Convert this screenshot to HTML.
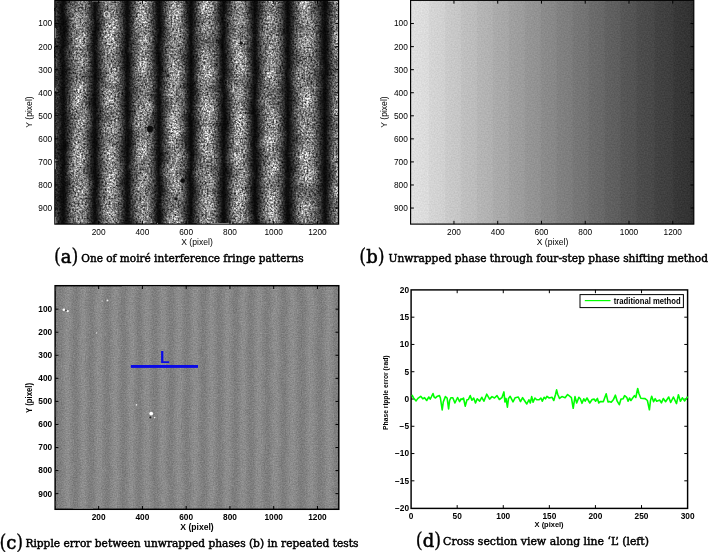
<!DOCTYPE html>
<html><head><meta charset="utf-8"><style>
html,body{margin:0;padding:0;background:#fff;width:709px;height:552px;overflow:hidden}
svg{display:block}
</style></head><body>
<svg width="709" height="552" viewBox="0 0 709 552">
<defs>
<linearGradient id="fr" gradientUnits="userSpaceOnUse" x1="55" y1="0" x2="339" y2="0"><stop offset="0.0000" stop-color="rgb(114,114,114)"/><stop offset="0.0035" stop-color="rgb(100,100,100)"/><stop offset="0.0070" stop-color="rgb(86,86,86)"/><stop offset="0.0106" stop-color="rgb(72,72,72)"/><stop offset="0.0141" stop-color="rgb(59,59,59)"/><stop offset="0.0176" stop-color="rgb(47,47,47)"/><stop offset="0.0211" stop-color="rgb(36,36,36)"/><stop offset="0.0246" stop-color="rgb(27,27,27)"/><stop offset="0.0282" stop-color="rgb(20,20,20)"/><stop offset="0.0317" stop-color="rgb(21,21,21)"/><stop offset="0.0352" stop-color="rgb(34,34,34)"/><stop offset="0.0387" stop-color="rgb(51,51,51)"/><stop offset="0.0423" stop-color="rgb(71,71,71)"/><stop offset="0.0458" stop-color="rgb(92,92,92)"/><stop offset="0.0493" stop-color="rgb(113,113,113)"/><stop offset="0.0528" stop-color="rgb(135,135,135)"/><stop offset="0.0563" stop-color="rgb(156,156,156)"/><stop offset="0.0599" stop-color="rgb(176,176,176)"/><stop offset="0.0634" stop-color="rgb(195,195,195)"/><stop offset="0.0669" stop-color="rgb(212,212,212)"/><stop offset="0.0704" stop-color="rgb(226,226,226)"/><stop offset="0.0739" stop-color="rgb(238,238,238)"/><stop offset="0.0775" stop-color="rgb(247,247,247)"/><stop offset="0.0810" stop-color="rgb(252,252,252)"/><stop offset="0.0845" stop-color="rgb(255,255,255)"/><stop offset="0.0880" stop-color="rgb(254,254,254)"/><stop offset="0.0915" stop-color="rgb(250,250,250)"/><stop offset="0.0951" stop-color="rgb(243,243,243)"/><stop offset="0.0986" stop-color="rgb(232,232,232)"/><stop offset="0.1021" stop-color="rgb(219,219,219)"/><stop offset="0.1056" stop-color="rgb(204,204,204)"/><stop offset="0.1092" stop-color="rgb(186,186,186)"/><stop offset="0.1127" stop-color="rgb(166,166,166)"/><stop offset="0.1162" stop-color="rgb(146,146,146)"/><stop offset="0.1197" stop-color="rgb(124,124,124)"/><stop offset="0.1232" stop-color="rgb(102,102,102)"/><stop offset="0.1268" stop-color="rgb(81,81,81)"/><stop offset="0.1303" stop-color="rgb(61,61,61)"/><stop offset="0.1338" stop-color="rgb(42,42,42)"/><stop offset="0.1373" stop-color="rgb(27,27,27)"/><stop offset="0.1408" stop-color="rgb(18,18,18)"/><stop offset="0.1444" stop-color="rgb(27,27,27)"/><stop offset="0.1479" stop-color="rgb(42,42,42)"/><stop offset="0.1514" stop-color="rgb(59,59,59)"/><stop offset="0.1549" stop-color="rgb(79,79,79)"/><stop offset="0.1585" stop-color="rgb(100,100,100)"/><stop offset="0.1620" stop-color="rgb(121,121,121)"/><stop offset="0.1655" stop-color="rgb(142,142,142)"/><stop offset="0.1690" stop-color="rgb(162,162,162)"/><stop offset="0.1725" stop-color="rgb(182,182,182)"/><stop offset="0.1761" stop-color="rgb(199,199,199)"/><stop offset="0.1796" stop-color="rgb(215,215,215)"/><stop offset="0.1831" stop-color="rgb(229,229,229)"/><stop offset="0.1866" stop-color="rgb(240,240,240)"/><stop offset="0.1901" stop-color="rgb(248,248,248)"/><stop offset="0.1937" stop-color="rgb(253,253,253)"/><stop offset="0.1972" stop-color="rgb(255,255,255)"/><stop offset="0.2007" stop-color="rgb(254,254,254)"/><stop offset="0.2042" stop-color="rgb(250,250,250)"/><stop offset="0.2077" stop-color="rgb(242,242,242)"/><stop offset="0.2113" stop-color="rgb(232,232,232)"/><stop offset="0.2148" stop-color="rgb(220,220,220)"/><stop offset="0.2183" stop-color="rgb(204,204,204)"/><stop offset="0.2218" stop-color="rgb(187,187,187)"/><stop offset="0.2254" stop-color="rgb(168,168,168)"/><stop offset="0.2289" stop-color="rgb(148,148,148)"/><stop offset="0.2324" stop-color="rgb(127,127,127)"/><stop offset="0.2359" stop-color="rgb(106,106,106)"/><stop offset="0.2394" stop-color="rgb(85,85,85)"/><stop offset="0.2430" stop-color="rgb(65,65,65)"/><stop offset="0.2465" stop-color="rgb(47,47,47)"/><stop offset="0.2500" stop-color="rgb(31,31,31)"/><stop offset="0.2535" stop-color="rgb(20,20,20)"/><stop offset="0.2570" stop-color="rgb(24,24,24)"/><stop offset="0.2606" stop-color="rgb(37,37,37)"/><stop offset="0.2641" stop-color="rgb(55,55,55)"/><stop offset="0.2676" stop-color="rgb(74,74,74)"/><stop offset="0.2711" stop-color="rgb(95,95,95)"/><stop offset="0.2746" stop-color="rgb(117,117,117)"/><stop offset="0.2782" stop-color="rgb(139,139,139)"/><stop offset="0.2817" stop-color="rgb(160,160,160)"/><stop offset="0.2852" stop-color="rgb(180,180,180)"/><stop offset="0.2887" stop-color="rgb(198,198,198)"/><stop offset="0.2923" stop-color="rgb(214,214,214)"/><stop offset="0.2958" stop-color="rgb(228,228,228)"/><stop offset="0.2993" stop-color="rgb(240,240,240)"/><stop offset="0.3028" stop-color="rgb(248,248,248)"/><stop offset="0.3063" stop-color="rgb(253,253,253)"/><stop offset="0.3099" stop-color="rgb(255,255,255)"/><stop offset="0.3134" stop-color="rgb(254,254,254)"/><stop offset="0.3169" stop-color="rgb(249,249,249)"/><stop offset="0.3204" stop-color="rgb(241,241,241)"/><stop offset="0.3239" stop-color="rgb(231,231,231)"/><stop offset="0.3275" stop-color="rgb(217,217,217)"/><stop offset="0.3310" stop-color="rgb(201,201,201)"/><stop offset="0.3345" stop-color="rgb(183,183,183)"/><stop offset="0.3380" stop-color="rgb(164,164,164)"/><stop offset="0.3415" stop-color="rgb(143,143,143)"/><stop offset="0.3451" stop-color="rgb(121,121,121)"/><stop offset="0.3486" stop-color="rgb(100,100,100)"/><stop offset="0.3521" stop-color="rgb(79,79,79)"/><stop offset="0.3556" stop-color="rgb(59,59,59)"/><stop offset="0.3592" stop-color="rgb(41,41,41)"/><stop offset="0.3627" stop-color="rgb(26,26,26)"/><stop offset="0.3662" stop-color="rgb(18,18,18)"/><stop offset="0.3697" stop-color="rgb(28,28,28)"/><stop offset="0.3732" stop-color="rgb(43,43,43)"/><stop offset="0.3768" stop-color="rgb(62,62,62)"/><stop offset="0.3803" stop-color="rgb(81,81,81)"/><stop offset="0.3838" stop-color="rgb(102,102,102)"/><stop offset="0.3873" stop-color="rgb(124,124,124)"/><stop offset="0.3908" stop-color="rgb(145,145,145)"/><stop offset="0.3944" stop-color="rgb(165,165,165)"/><stop offset="0.3979" stop-color="rgb(185,185,185)"/><stop offset="0.4014" stop-color="rgb(202,202,202)"/><stop offset="0.4049" stop-color="rgb(218,218,218)"/><stop offset="0.4085" stop-color="rgb(231,231,231)"/><stop offset="0.4120" stop-color="rgb(241,241,241)"/><stop offset="0.4155" stop-color="rgb(249,249,249)"/><stop offset="0.4190" stop-color="rgb(254,254,254)"/><stop offset="0.4225" stop-color="rgb(255,255,255)"/><stop offset="0.4261" stop-color="rgb(253,253,253)"/><stop offset="0.4296" stop-color="rgb(248,248,248)"/><stop offset="0.4331" stop-color="rgb(240,240,240)"/><stop offset="0.4366" stop-color="rgb(230,230,230)"/><stop offset="0.4401" stop-color="rgb(216,216,216)"/><stop offset="0.4437" stop-color="rgb(200,200,200)"/><stop offset="0.4472" stop-color="rgb(183,183,183)"/><stop offset="0.4507" stop-color="rgb(163,163,163)"/><stop offset="0.4542" stop-color="rgb(143,143,143)"/><stop offset="0.4577" stop-color="rgb(122,122,122)"/><stop offset="0.4613" stop-color="rgb(100,100,100)"/><stop offset="0.4648" stop-color="rgb(79,79,79)"/><stop offset="0.4683" stop-color="rgb(60,60,60)"/><stop offset="0.4718" stop-color="rgb(42,42,42)"/><stop offset="0.4754" stop-color="rgb(27,27,27)"/><stop offset="0.4789" stop-color="rgb(18,18,18)"/><stop offset="0.4824" stop-color="rgb(27,27,27)"/><stop offset="0.4859" stop-color="rgb(41,41,41)"/><stop offset="0.4894" stop-color="rgb(58,58,58)"/><stop offset="0.4930" stop-color="rgb(78,78,78)"/><stop offset="0.4965" stop-color="rgb(98,98,98)"/><stop offset="0.5000" stop-color="rgb(119,119,119)"/><stop offset="0.5035" stop-color="rgb(140,140,140)"/><stop offset="0.5070" stop-color="rgb(160,160,160)"/><stop offset="0.5106" stop-color="rgb(179,179,179)"/><stop offset="0.5141" stop-color="rgb(197,197,197)"/><stop offset="0.5176" stop-color="rgb(213,213,213)"/><stop offset="0.5211" stop-color="rgb(226,226,226)"/><stop offset="0.5246" stop-color="rgb(238,238,238)"/><stop offset="0.5282" stop-color="rgb(246,246,246)"/><stop offset="0.5317" stop-color="rgb(252,252,252)"/><stop offset="0.5352" stop-color="rgb(255,255,255)"/><stop offset="0.5387" stop-color="rgb(254,254,254)"/><stop offset="0.5423" stop-color="rgb(251,251,251)"/><stop offset="0.5458" stop-color="rgb(245,245,245)"/><stop offset="0.5493" stop-color="rgb(236,236,236)"/><stop offset="0.5528" stop-color="rgb(224,224,224)"/><stop offset="0.5563" stop-color="rgb(210,210,210)"/><stop offset="0.5599" stop-color="rgb(193,193,193)"/><stop offset="0.5634" stop-color="rgb(175,175,175)"/><stop offset="0.5669" stop-color="rgb(156,156,156)"/><stop offset="0.5704" stop-color="rgb(136,136,136)"/><stop offset="0.5739" stop-color="rgb(115,115,115)"/><stop offset="0.5775" stop-color="rgb(94,94,94)"/><stop offset="0.5810" stop-color="rgb(74,74,74)"/><stop offset="0.5845" stop-color="rgb(55,55,55)"/><stop offset="0.5880" stop-color="rgb(38,38,38)"/><stop offset="0.5915" stop-color="rgb(24,24,24)"/><stop offset="0.5951" stop-color="rgb(19,19,19)"/><stop offset="0.5986" stop-color="rgb(30,30,30)"/><stop offset="0.6021" stop-color="rgb(47,47,47)"/><stop offset="0.6056" stop-color="rgb(66,66,66)"/><stop offset="0.6092" stop-color="rgb(87,87,87)"/><stop offset="0.6127" stop-color="rgb(108,108,108)"/><stop offset="0.6162" stop-color="rgb(131,131,131)"/><stop offset="0.6197" stop-color="rgb(152,152,152)"/><stop offset="0.6232" stop-color="rgb(173,173,173)"/><stop offset="0.6268" stop-color="rgb(192,192,192)"/><stop offset="0.6303" stop-color="rgb(210,210,210)"/><stop offset="0.6338" stop-color="rgb(225,225,225)"/><stop offset="0.6373" stop-color="rgb(237,237,237)"/><stop offset="0.6408" stop-color="rgb(246,246,246)"/><stop offset="0.6444" stop-color="rgb(252,252,252)"/><stop offset="0.6479" stop-color="rgb(255,255,255)"/><stop offset="0.6514" stop-color="rgb(254,254,254)"/><stop offset="0.6549" stop-color="rgb(250,250,250)"/><stop offset="0.6585" stop-color="rgb(243,243,243)"/><stop offset="0.6620" stop-color="rgb(232,232,232)"/><stop offset="0.6655" stop-color="rgb(219,219,219)"/><stop offset="0.6690" stop-color="rgb(203,203,203)"/><stop offset="0.6725" stop-color="rgb(185,185,185)"/><stop offset="0.6761" stop-color="rgb(165,165,165)"/><stop offset="0.6796" stop-color="rgb(144,144,144)"/><stop offset="0.6831" stop-color="rgb(122,122,122)"/><stop offset="0.6866" stop-color="rgb(100,100,100)"/><stop offset="0.6901" stop-color="rgb(78,78,78)"/><stop offset="0.6937" stop-color="rgb(58,58,58)"/><stop offset="0.6972" stop-color="rgb(40,40,40)"/><stop offset="0.7007" stop-color="rgb(25,25,25)"/><stop offset="0.7042" stop-color="rgb(19,19,19)"/><stop offset="0.7077" stop-color="rgb(29,29,29)"/><stop offset="0.7113" stop-color="rgb(44,44,44)"/><stop offset="0.7148" stop-color="rgb(62,62,62)"/><stop offset="0.7183" stop-color="rgb(81,81,81)"/><stop offset="0.7218" stop-color="rgb(102,102,102)"/><stop offset="0.7254" stop-color="rgb(122,122,122)"/><stop offset="0.7289" stop-color="rgb(143,143,143)"/><stop offset="0.7324" stop-color="rgb(163,163,163)"/><stop offset="0.7359" stop-color="rgb(182,182,182)"/><stop offset="0.7394" stop-color="rgb(199,199,199)"/><stop offset="0.7430" stop-color="rgb(215,215,215)"/><stop offset="0.7465" stop-color="rgb(228,228,228)"/><stop offset="0.7500" stop-color="rgb(239,239,239)"/><stop offset="0.7535" stop-color="rgb(247,247,247)"/><stop offset="0.7570" stop-color="rgb(252,252,252)"/><stop offset="0.7606" stop-color="rgb(255,255,255)"/><stop offset="0.7641" stop-color="rgb(254,254,254)"/><stop offset="0.7676" stop-color="rgb(251,251,251)"/><stop offset="0.7711" stop-color="rgb(244,244,244)"/><stop offset="0.7746" stop-color="rgb(235,235,235)"/><stop offset="0.7782" stop-color="rgb(223,223,223)"/><stop offset="0.7817" stop-color="rgb(209,209,209)"/><stop offset="0.7852" stop-color="rgb(192,192,192)"/><stop offset="0.7887" stop-color="rgb(174,174,174)"/><stop offset="0.7923" stop-color="rgb(155,155,155)"/><stop offset="0.7958" stop-color="rgb(135,135,135)"/><stop offset="0.7993" stop-color="rgb(114,114,114)"/><stop offset="0.8028" stop-color="rgb(93,93,93)"/><stop offset="0.8063" stop-color="rgb(73,73,73)"/><stop offset="0.8099" stop-color="rgb(54,54,54)"/><stop offset="0.8134" stop-color="rgb(38,38,38)"/><stop offset="0.8169" stop-color="rgb(24,24,24)"/><stop offset="0.8204" stop-color="rgb(19,19,19)"/><stop offset="0.8239" stop-color="rgb(27,27,27)"/><stop offset="0.8275" stop-color="rgb(40,40,40)"/><stop offset="0.8310" stop-color="rgb(55,55,55)"/><stop offset="0.8345" stop-color="rgb(72,72,72)"/><stop offset="0.8380" stop-color="rgb(89,89,89)"/><stop offset="0.8415" stop-color="rgb(108,108,108)"/><stop offset="0.8451" stop-color="rgb(126,126,126)"/><stop offset="0.8486" stop-color="rgb(144,144,144)"/><stop offset="0.8521" stop-color="rgb(162,162,162)"/><stop offset="0.8556" stop-color="rgb(179,179,179)"/><stop offset="0.8592" stop-color="rgb(195,195,195)"/><stop offset="0.8627" stop-color="rgb(209,209,209)"/><stop offset="0.8662" stop-color="rgb(222,222,222)"/><stop offset="0.8697" stop-color="rgb(233,233,233)"/><stop offset="0.8732" stop-color="rgb(242,242,242)"/><stop offset="0.8768" stop-color="rgb(248,248,248)"/><stop offset="0.8803" stop-color="rgb(253,253,253)"/><stop offset="0.8838" stop-color="rgb(255,255,255)"/><stop offset="0.8873" stop-color="rgb(255,255,255)"/><stop offset="0.8908" stop-color="rgb(252,252,252)"/><stop offset="0.8944" stop-color="rgb(247,247,247)"/><stop offset="0.8979" stop-color="rgb(240,240,240)"/><stop offset="0.9014" stop-color="rgb(231,231,231)"/><stop offset="0.9049" stop-color="rgb(219,219,219)"/><stop offset="0.9085" stop-color="rgb(206,206,206)"/><stop offset="0.9120" stop-color="rgb(192,192,192)"/><stop offset="0.9155" stop-color="rgb(176,176,176)"/><stop offset="0.9190" stop-color="rgb(159,159,159)"/><stop offset="0.9225" stop-color="rgb(141,141,141)"/><stop offset="0.9261" stop-color="rgb(122,122,122)"/><stop offset="0.9296" stop-color="rgb(104,104,104)"/><stop offset="0.9331" stop-color="rgb(86,86,86)"/><stop offset="0.9366" stop-color="rgb(68,68,68)"/><stop offset="0.9401" stop-color="rgb(52,52,52)"/><stop offset="0.9437" stop-color="rgb(37,37,37)"/><stop offset="0.9472" stop-color="rgb(25,25,25)"/><stop offset="0.9507" stop-color="rgb(18,18,18)"/><stop offset="0.9542" stop-color="rgb(27,27,27)"/><stop offset="0.9577" stop-color="rgb(41,41,41)"/><stop offset="0.9613" stop-color="rgb(58,58,58)"/><stop offset="0.9648" stop-color="rgb(77,77,77)"/><stop offset="0.9683" stop-color="rgb(97,97,97)"/><stop offset="0.9718" stop-color="rgb(118,118,118)"/><stop offset="0.9754" stop-color="rgb(139,139,139)"/><stop offset="0.9789" stop-color="rgb(159,159,159)"/><stop offset="0.9824" stop-color="rgb(178,178,178)"/><stop offset="0.9859" stop-color="rgb(196,196,196)"/><stop offset="0.9894" stop-color="rgb(212,212,212)"/><stop offset="0.9930" stop-color="rgb(226,226,226)"/><stop offset="0.9965" stop-color="rgb(237,237,237)"/><stop offset="1.0000" stop-color="rgb(246,246,246)"/></linearGradient>
<linearGradient id="ph" x1="0" y1="0" x2="1" y2="0"><stop offset="0.0000" stop-color="rgb(224,224,224)"/><stop offset="0.0035" stop-color="rgb(224,224,224)"/><stop offset="0.0070" stop-color="rgb(223,223,223)"/><stop offset="0.0106" stop-color="rgb(223,223,223)"/><stop offset="0.0141" stop-color="rgb(223,223,223)"/><stop offset="0.0176" stop-color="rgb(223,223,223)"/><stop offset="0.0211" stop-color="rgb(222,222,222)"/><stop offset="0.0246" stop-color="rgb(222,222,222)"/><stop offset="0.0282" stop-color="rgb(222,222,222)"/><stop offset="0.0317" stop-color="rgb(222,222,222)"/><stop offset="0.0352" stop-color="rgb(221,221,221)"/><stop offset="0.0387" stop-color="rgb(221,221,221)"/><stop offset="0.0423" stop-color="rgb(220,220,220)"/><stop offset="0.0458" stop-color="rgb(220,220,220)"/><stop offset="0.0493" stop-color="rgb(220,220,220)"/><stop offset="0.0528" stop-color="rgb(219,219,219)"/><stop offset="0.0563" stop-color="rgb(219,219,219)"/><stop offset="0.0599" stop-color="rgb(219,219,219)"/><stop offset="0.0634" stop-color="rgb(218,218,218)"/><stop offset="0.0669" stop-color="rgb(213,213,213)"/><stop offset="0.0704" stop-color="rgb(213,213,213)"/><stop offset="0.0739" stop-color="rgb(212,212,212)"/><stop offset="0.0775" stop-color="rgb(212,212,212)"/><stop offset="0.0810" stop-color="rgb(212,212,212)"/><stop offset="0.0845" stop-color="rgb(211,211,211)"/><stop offset="0.0880" stop-color="rgb(211,211,211)"/><stop offset="0.0915" stop-color="rgb(211,211,211)"/><stop offset="0.0951" stop-color="rgb(210,210,210)"/><stop offset="0.0986" stop-color="rgb(210,210,210)"/><stop offset="0.1021" stop-color="rgb(210,210,210)"/><stop offset="0.1056" stop-color="rgb(209,209,209)"/><stop offset="0.1092" stop-color="rgb(209,209,209)"/><stop offset="0.1127" stop-color="rgb(208,208,208)"/><stop offset="0.1162" stop-color="rgb(208,208,208)"/><stop offset="0.1197" stop-color="rgb(208,208,208)"/><stop offset="0.1232" stop-color="rgb(203,203,203)"/><stop offset="0.1268" stop-color="rgb(202,202,202)"/><stop offset="0.1303" stop-color="rgb(202,202,202)"/><stop offset="0.1338" stop-color="rgb(202,202,202)"/><stop offset="0.1373" stop-color="rgb(201,201,201)"/><stop offset="0.1408" stop-color="rgb(201,201,201)"/><stop offset="0.1444" stop-color="rgb(200,200,200)"/><stop offset="0.1479" stop-color="rgb(200,200,200)"/><stop offset="0.1514" stop-color="rgb(200,200,200)"/><stop offset="0.1549" stop-color="rgb(199,199,199)"/><stop offset="0.1585" stop-color="rgb(199,199,199)"/><stop offset="0.1620" stop-color="rgb(199,199,199)"/><stop offset="0.1655" stop-color="rgb(198,198,198)"/><stop offset="0.1690" stop-color="rgb(198,198,198)"/><stop offset="0.1725" stop-color="rgb(198,198,198)"/><stop offset="0.1761" stop-color="rgb(197,197,197)"/><stop offset="0.1796" stop-color="rgb(192,192,192)"/><stop offset="0.1831" stop-color="rgb(192,192,192)"/><stop offset="0.1866" stop-color="rgb(191,191,191)"/><stop offset="0.1901" stop-color="rgb(191,191,191)"/><stop offset="0.1937" stop-color="rgb(191,191,191)"/><stop offset="0.1972" stop-color="rgb(190,190,190)"/><stop offset="0.2007" stop-color="rgb(190,190,190)"/><stop offset="0.2042" stop-color="rgb(190,190,190)"/><stop offset="0.2077" stop-color="rgb(189,189,189)"/><stop offset="0.2113" stop-color="rgb(189,189,189)"/><stop offset="0.2148" stop-color="rgb(189,189,189)"/><stop offset="0.2183" stop-color="rgb(188,188,188)"/><stop offset="0.2218" stop-color="rgb(188,188,188)"/><stop offset="0.2254" stop-color="rgb(188,188,188)"/><stop offset="0.2289" stop-color="rgb(187,187,187)"/><stop offset="0.2324" stop-color="rgb(187,187,187)"/><stop offset="0.2359" stop-color="rgb(182,182,182)"/><stop offset="0.2394" stop-color="rgb(181,181,181)"/><stop offset="0.2430" stop-color="rgb(181,181,181)"/><stop offset="0.2465" stop-color="rgb(181,181,181)"/><stop offset="0.2500" stop-color="rgb(180,180,180)"/><stop offset="0.2535" stop-color="rgb(180,180,180)"/><stop offset="0.2570" stop-color="rgb(180,180,180)"/><stop offset="0.2606" stop-color="rgb(179,179,179)"/><stop offset="0.2641" stop-color="rgb(179,179,179)"/><stop offset="0.2676" stop-color="rgb(179,179,179)"/><stop offset="0.2711" stop-color="rgb(178,178,178)"/><stop offset="0.2746" stop-color="rgb(178,178,178)"/><stop offset="0.2782" stop-color="rgb(177,177,177)"/><stop offset="0.2817" stop-color="rgb(177,177,177)"/><stop offset="0.2852" stop-color="rgb(177,177,177)"/><stop offset="0.2887" stop-color="rgb(176,176,176)"/><stop offset="0.2923" stop-color="rgb(171,171,171)"/><stop offset="0.2958" stop-color="rgb(171,171,171)"/><stop offset="0.2993" stop-color="rgb(171,171,171)"/><stop offset="0.3028" stop-color="rgb(170,170,170)"/><stop offset="0.3063" stop-color="rgb(170,170,170)"/><stop offset="0.3099" stop-color="rgb(169,169,169)"/><stop offset="0.3134" stop-color="rgb(169,169,169)"/><stop offset="0.3169" stop-color="rgb(169,169,169)"/><stop offset="0.3204" stop-color="rgb(168,168,168)"/><stop offset="0.3239" stop-color="rgb(168,168,168)"/><stop offset="0.3275" stop-color="rgb(168,168,168)"/><stop offset="0.3310" stop-color="rgb(167,167,167)"/><stop offset="0.3345" stop-color="rgb(167,167,167)"/><stop offset="0.3380" stop-color="rgb(167,167,167)"/><stop offset="0.3415" stop-color="rgb(166,166,166)"/><stop offset="0.3451" stop-color="rgb(166,166,166)"/><stop offset="0.3486" stop-color="rgb(161,161,161)"/><stop offset="0.3521" stop-color="rgb(160,160,160)"/><stop offset="0.3556" stop-color="rgb(160,160,160)"/><stop offset="0.3592" stop-color="rgb(160,160,160)"/><stop offset="0.3627" stop-color="rgb(159,159,159)"/><stop offset="0.3662" stop-color="rgb(159,159,159)"/><stop offset="0.3697" stop-color="rgb(159,159,159)"/><stop offset="0.3732" stop-color="rgb(158,158,158)"/><stop offset="0.3768" stop-color="rgb(158,158,158)"/><stop offset="0.3803" stop-color="rgb(157,157,157)"/><stop offset="0.3838" stop-color="rgb(157,157,157)"/><stop offset="0.3873" stop-color="rgb(157,157,157)"/><stop offset="0.3908" stop-color="rgb(156,156,156)"/><stop offset="0.3944" stop-color="rgb(156,156,156)"/><stop offset="0.3979" stop-color="rgb(156,156,156)"/><stop offset="0.4014" stop-color="rgb(155,155,155)"/><stop offset="0.4049" stop-color="rgb(150,150,150)"/><stop offset="0.4085" stop-color="rgb(150,150,150)"/><stop offset="0.4120" stop-color="rgb(149,149,149)"/><stop offset="0.4155" stop-color="rgb(149,149,149)"/><stop offset="0.4190" stop-color="rgb(149,149,149)"/><stop offset="0.4225" stop-color="rgb(148,148,148)"/><stop offset="0.4261" stop-color="rgb(148,148,148)"/><stop offset="0.4296" stop-color="rgb(148,148,148)"/><stop offset="0.4331" stop-color="rgb(147,147,147)"/><stop offset="0.4366" stop-color="rgb(147,147,147)"/><stop offset="0.4401" stop-color="rgb(147,147,147)"/><stop offset="0.4437" stop-color="rgb(146,146,146)"/><stop offset="0.4472" stop-color="rgb(146,146,146)"/><stop offset="0.4507" stop-color="rgb(146,146,146)"/><stop offset="0.4542" stop-color="rgb(145,145,145)"/><stop offset="0.4577" stop-color="rgb(145,145,145)"/><stop offset="0.4613" stop-color="rgb(140,140,140)"/><stop offset="0.4648" stop-color="rgb(139,139,139)"/><stop offset="0.4683" stop-color="rgb(139,139,139)"/><stop offset="0.4718" stop-color="rgb(139,139,139)"/><stop offset="0.4754" stop-color="rgb(138,138,138)"/><stop offset="0.4789" stop-color="rgb(138,138,138)"/><stop offset="0.4824" stop-color="rgb(138,138,138)"/><stop offset="0.4859" stop-color="rgb(137,137,137)"/><stop offset="0.4894" stop-color="rgb(137,137,137)"/><stop offset="0.4930" stop-color="rgb(137,137,137)"/><stop offset="0.4965" stop-color="rgb(136,136,136)"/><stop offset="0.5000" stop-color="rgb(136,136,136)"/><stop offset="0.5035" stop-color="rgb(136,136,136)"/><stop offset="0.5070" stop-color="rgb(135,135,135)"/><stop offset="0.5106" stop-color="rgb(135,135,135)"/><stop offset="0.5141" stop-color="rgb(134,134,134)"/><stop offset="0.5176" stop-color="rgb(129,129,129)"/><stop offset="0.5211" stop-color="rgb(129,129,129)"/><stop offset="0.5246" stop-color="rgb(129,129,129)"/><stop offset="0.5282" stop-color="rgb(128,128,128)"/><stop offset="0.5317" stop-color="rgb(128,128,128)"/><stop offset="0.5352" stop-color="rgb(128,128,128)"/><stop offset="0.5387" stop-color="rgb(127,127,127)"/><stop offset="0.5423" stop-color="rgb(127,127,127)"/><stop offset="0.5458" stop-color="rgb(127,127,127)"/><stop offset="0.5493" stop-color="rgb(126,126,126)"/><stop offset="0.5528" stop-color="rgb(126,126,126)"/><stop offset="0.5563" stop-color="rgb(126,126,126)"/><stop offset="0.5599" stop-color="rgb(125,125,125)"/><stop offset="0.5634" stop-color="rgb(125,125,125)"/><stop offset="0.5669" stop-color="rgb(124,124,124)"/><stop offset="0.5704" stop-color="rgb(124,124,124)"/><stop offset="0.5739" stop-color="rgb(119,119,119)"/><stop offset="0.5775" stop-color="rgb(119,119,119)"/><stop offset="0.5810" stop-color="rgb(118,118,118)"/><stop offset="0.5845" stop-color="rgb(118,118,118)"/><stop offset="0.5880" stop-color="rgb(118,118,118)"/><stop offset="0.5915" stop-color="rgb(117,117,117)"/><stop offset="0.5951" stop-color="rgb(117,117,117)"/><stop offset="0.5986" stop-color="rgb(117,117,117)"/><stop offset="0.6021" stop-color="rgb(116,116,116)"/><stop offset="0.6056" stop-color="rgb(116,116,116)"/><stop offset="0.6092" stop-color="rgb(115,115,115)"/><stop offset="0.6127" stop-color="rgb(115,115,115)"/><stop offset="0.6162" stop-color="rgb(115,115,115)"/><stop offset="0.6197" stop-color="rgb(114,114,114)"/><stop offset="0.6232" stop-color="rgb(114,114,114)"/><stop offset="0.6268" stop-color="rgb(114,114,114)"/><stop offset="0.6303" stop-color="rgb(109,109,109)"/><stop offset="0.6338" stop-color="rgb(108,108,108)"/><stop offset="0.6373" stop-color="rgb(108,108,108)"/><stop offset="0.6408" stop-color="rgb(107,107,107)"/><stop offset="0.6444" stop-color="rgb(107,107,107)"/><stop offset="0.6479" stop-color="rgb(107,107,107)"/><stop offset="0.6514" stop-color="rgb(106,106,106)"/><stop offset="0.6549" stop-color="rgb(106,106,106)"/><stop offset="0.6585" stop-color="rgb(106,106,106)"/><stop offset="0.6620" stop-color="rgb(105,105,105)"/><stop offset="0.6655" stop-color="rgb(105,105,105)"/><stop offset="0.6690" stop-color="rgb(104,104,104)"/><stop offset="0.6725" stop-color="rgb(104,104,104)"/><stop offset="0.6761" stop-color="rgb(104,104,104)"/><stop offset="0.6796" stop-color="rgb(103,103,103)"/><stop offset="0.6831" stop-color="rgb(103,103,103)"/><stop offset="0.6866" stop-color="rgb(98,98,98)"/><stop offset="0.6901" stop-color="rgb(97,97,97)"/><stop offset="0.6937" stop-color="rgb(97,97,97)"/><stop offset="0.6972" stop-color="rgb(97,97,97)"/><stop offset="0.7007" stop-color="rgb(96,96,96)"/><stop offset="0.7042" stop-color="rgb(96,96,96)"/><stop offset="0.7077" stop-color="rgb(96,96,96)"/><stop offset="0.7113" stop-color="rgb(95,95,95)"/><stop offset="0.7148" stop-color="rgb(95,95,95)"/><stop offset="0.7183" stop-color="rgb(95,95,95)"/><stop offset="0.7218" stop-color="rgb(94,94,94)"/><stop offset="0.7254" stop-color="rgb(94,94,94)"/><stop offset="0.7289" stop-color="rgb(94,94,94)"/><stop offset="0.7324" stop-color="rgb(93,93,93)"/><stop offset="0.7359" stop-color="rgb(93,93,93)"/><stop offset="0.7394" stop-color="rgb(93,93,93)"/><stop offset="0.7430" stop-color="rgb(87,87,87)"/><stop offset="0.7465" stop-color="rgb(87,87,87)"/><stop offset="0.7500" stop-color="rgb(87,87,87)"/><stop offset="0.7535" stop-color="rgb(86,86,86)"/><stop offset="0.7570" stop-color="rgb(86,86,86)"/><stop offset="0.7606" stop-color="rgb(86,86,86)"/><stop offset="0.7641" stop-color="rgb(85,85,85)"/><stop offset="0.7676" stop-color="rgb(85,85,85)"/><stop offset="0.7711" stop-color="rgb(85,85,85)"/><stop offset="0.7746" stop-color="rgb(84,84,84)"/><stop offset="0.7782" stop-color="rgb(84,84,84)"/><stop offset="0.7817" stop-color="rgb(84,84,84)"/><stop offset="0.7852" stop-color="rgb(83,83,83)"/><stop offset="0.7887" stop-color="rgb(83,83,83)"/><stop offset="0.7923" stop-color="rgb(83,83,83)"/><stop offset="0.7958" stop-color="rgb(82,82,82)"/><stop offset="0.7993" stop-color="rgb(77,77,77)"/><stop offset="0.8028" stop-color="rgb(77,77,77)"/><stop offset="0.8063" stop-color="rgb(76,76,76)"/><stop offset="0.8099" stop-color="rgb(76,76,76)"/><stop offset="0.8134" stop-color="rgb(76,76,76)"/><stop offset="0.8169" stop-color="rgb(75,75,75)"/><stop offset="0.8204" stop-color="rgb(75,75,75)"/><stop offset="0.8239" stop-color="rgb(75,75,75)"/><stop offset="0.8275" stop-color="rgb(74,74,74)"/><stop offset="0.8310" stop-color="rgb(74,74,74)"/><stop offset="0.8345" stop-color="rgb(74,74,74)"/><stop offset="0.8380" stop-color="rgb(74,74,74)"/><stop offset="0.8415" stop-color="rgb(73,73,73)"/><stop offset="0.8451" stop-color="rgb(73,73,73)"/><stop offset="0.8486" stop-color="rgb(73,73,73)"/><stop offset="0.8521" stop-color="rgb(72,72,72)"/><stop offset="0.8556" stop-color="rgb(72,72,72)"/><stop offset="0.8592" stop-color="rgb(72,72,72)"/><stop offset="0.8627" stop-color="rgb(67,67,67)"/><stop offset="0.8662" stop-color="rgb(66,66,66)"/><stop offset="0.8697" stop-color="rgb(66,66,66)"/><stop offset="0.8732" stop-color="rgb(66,66,66)"/><stop offset="0.8768" stop-color="rgb(65,65,65)"/><stop offset="0.8803" stop-color="rgb(65,65,65)"/><stop offset="0.8838" stop-color="rgb(65,65,65)"/><stop offset="0.8873" stop-color="rgb(64,64,64)"/><stop offset="0.8908" stop-color="rgb(64,64,64)"/><stop offset="0.8944" stop-color="rgb(64,64,64)"/><stop offset="0.8979" stop-color="rgb(64,64,64)"/><stop offset="0.9014" stop-color="rgb(63,63,63)"/><stop offset="0.9049" stop-color="rgb(63,63,63)"/><stop offset="0.9085" stop-color="rgb(63,63,63)"/><stop offset="0.9120" stop-color="rgb(62,62,62)"/><stop offset="0.9155" stop-color="rgb(62,62,62)"/><stop offset="0.9190" stop-color="rgb(62,62,62)"/><stop offset="0.9225" stop-color="rgb(61,61,61)"/><stop offset="0.9261" stop-color="rgb(61,61,61)"/><stop offset="0.9296" stop-color="rgb(56,56,56)"/><stop offset="0.9331" stop-color="rgb(56,56,56)"/><stop offset="0.9366" stop-color="rgb(55,55,55)"/><stop offset="0.9401" stop-color="rgb(55,55,55)"/><stop offset="0.9437" stop-color="rgb(55,55,55)"/><stop offset="0.9472" stop-color="rgb(54,54,54)"/><stop offset="0.9507" stop-color="rgb(54,54,54)"/><stop offset="0.9542" stop-color="rgb(54,54,54)"/><stop offset="0.9577" stop-color="rgb(53,53,53)"/><stop offset="0.9613" stop-color="rgb(53,53,53)"/><stop offset="0.9648" stop-color="rgb(53,53,53)"/><stop offset="0.9683" stop-color="rgb(52,52,52)"/><stop offset="0.9718" stop-color="rgb(52,52,52)"/><stop offset="0.9754" stop-color="rgb(52,52,52)"/><stop offset="0.9789" stop-color="rgb(51,51,51)"/><stop offset="0.9824" stop-color="rgb(51,51,51)"/><stop offset="0.9859" stop-color="rgb(51,51,51)"/><stop offset="0.9894" stop-color="rgb(46,46,46)"/><stop offset="0.9930" stop-color="rgb(45,45,45)"/><stop offset="0.9965" stop-color="rgb(45,45,45)"/><stop offset="1.0000" stop-color="rgb(45,45,45)"/></linearGradient>
<linearGradient id="rip" gradientUnits="userSpaceOnUse" x1="55" y1="0" x2="339" y2="0"><stop offset="0.0000" stop-color="rgb(127,127,127)"/><stop offset="0.0035" stop-color="rgb(126,126,126)"/><stop offset="0.0070" stop-color="rgb(125,125,125)"/><stop offset="0.0106" stop-color="rgb(125,125,125)"/><stop offset="0.0141" stop-color="rgb(126,126,126)"/><stop offset="0.0176" stop-color="rgb(127,127,127)"/><stop offset="0.0211" stop-color="rgb(128,128,128)"/><stop offset="0.0246" stop-color="rgb(130,130,130)"/><stop offset="0.0282" stop-color="rgb(132,132,132)"/><stop offset="0.0317" stop-color="rgb(135,135,135)"/><stop offset="0.0352" stop-color="rgb(138,138,138)"/><stop offset="0.0387" stop-color="rgb(140,140,140)"/><stop offset="0.0423" stop-color="rgb(141,141,141)"/><stop offset="0.0458" stop-color="rgb(141,141,141)"/><stop offset="0.0493" stop-color="rgb(139,139,139)"/><stop offset="0.0528" stop-color="rgb(137,137,137)"/><stop offset="0.0563" stop-color="rgb(134,134,134)"/><stop offset="0.0599" stop-color="rgb(131,131,131)"/><stop offset="0.0634" stop-color="rgb(128,128,128)"/><stop offset="0.0669" stop-color="rgb(126,126,126)"/><stop offset="0.0704" stop-color="rgb(125,125,125)"/><stop offset="0.0739" stop-color="rgb(125,125,125)"/><stop offset="0.0775" stop-color="rgb(127,127,127)"/><stop offset="0.0810" stop-color="rgb(129,129,129)"/><stop offset="0.0845" stop-color="rgb(132,132,132)"/><stop offset="0.0880" stop-color="rgb(135,135,135)"/><stop offset="0.0915" stop-color="rgb(138,138,138)"/><stop offset="0.0951" stop-color="rgb(140,140,140)"/><stop offset="0.0986" stop-color="rgb(141,141,141)"/><stop offset="0.1021" stop-color="rgb(141,141,141)"/><stop offset="0.1056" stop-color="rgb(139,139,139)"/><stop offset="0.1092" stop-color="rgb(136,136,136)"/><stop offset="0.1127" stop-color="rgb(133,133,133)"/><stop offset="0.1162" stop-color="rgb(130,130,130)"/><stop offset="0.1197" stop-color="rgb(128,128,128)"/><stop offset="0.1232" stop-color="rgb(126,126,126)"/><stop offset="0.1268" stop-color="rgb(125,125,125)"/><stop offset="0.1303" stop-color="rgb(126,126,126)"/><stop offset="0.1338" stop-color="rgb(127,127,127)"/><stop offset="0.1373" stop-color="rgb(130,130,130)"/><stop offset="0.1408" stop-color="rgb(133,133,133)"/><stop offset="0.1444" stop-color="rgb(136,136,136)"/><stop offset="0.1479" stop-color="rgb(139,139,139)"/><stop offset="0.1514" stop-color="rgb(140,140,140)"/><stop offset="0.1549" stop-color="rgb(141,141,141)"/><stop offset="0.1585" stop-color="rgb(140,140,140)"/><stop offset="0.1620" stop-color="rgb(139,139,139)"/><stop offset="0.1655" stop-color="rgb(136,136,136)"/><stop offset="0.1690" stop-color="rgb(133,133,133)"/><stop offset="0.1725" stop-color="rgb(130,130,130)"/><stop offset="0.1761" stop-color="rgb(128,128,128)"/><stop offset="0.1796" stop-color="rgb(126,126,126)"/><stop offset="0.1831" stop-color="rgb(125,125,125)"/><stop offset="0.1866" stop-color="rgb(125,125,125)"/><stop offset="0.1901" stop-color="rgb(127,127,127)"/><stop offset="0.1937" stop-color="rgb(130,130,130)"/><stop offset="0.1972" stop-color="rgb(133,133,133)"/><stop offset="0.2007" stop-color="rgb(136,136,136)"/><stop offset="0.2042" stop-color="rgb(138,138,138)"/><stop offset="0.2077" stop-color="rgb(140,140,140)"/><stop offset="0.2113" stop-color="rgb(141,141,141)"/><stop offset="0.2148" stop-color="rgb(141,141,141)"/><stop offset="0.2183" stop-color="rgb(139,139,139)"/><stop offset="0.2218" stop-color="rgb(137,137,137)"/><stop offset="0.2254" stop-color="rgb(134,134,134)"/><stop offset="0.2289" stop-color="rgb(131,131,131)"/><stop offset="0.2324" stop-color="rgb(128,128,128)"/><stop offset="0.2359" stop-color="rgb(126,126,126)"/><stop offset="0.2394" stop-color="rgb(125,125,125)"/><stop offset="0.2430" stop-color="rgb(125,125,125)"/><stop offset="0.2465" stop-color="rgb(127,127,127)"/><stop offset="0.2500" stop-color="rgb(129,129,129)"/><stop offset="0.2535" stop-color="rgb(132,132,132)"/><stop offset="0.2570" stop-color="rgb(135,135,135)"/><stop offset="0.2606" stop-color="rgb(138,138,138)"/><stop offset="0.2641" stop-color="rgb(140,140,140)"/><stop offset="0.2676" stop-color="rgb(141,141,141)"/><stop offset="0.2711" stop-color="rgb(141,141,141)"/><stop offset="0.2746" stop-color="rgb(139,139,139)"/><stop offset="0.2782" stop-color="rgb(137,137,137)"/><stop offset="0.2817" stop-color="rgb(134,134,134)"/><stop offset="0.2852" stop-color="rgb(130,130,130)"/><stop offset="0.2887" stop-color="rgb(128,128,128)"/><stop offset="0.2923" stop-color="rgb(126,126,126)"/><stop offset="0.2958" stop-color="rgb(125,125,125)"/><stop offset="0.2993" stop-color="rgb(125,125,125)"/><stop offset="0.3028" stop-color="rgb(127,127,127)"/><stop offset="0.3063" stop-color="rgb(130,130,130)"/><stop offset="0.3099" stop-color="rgb(133,133,133)"/><stop offset="0.3134" stop-color="rgb(136,136,136)"/><stop offset="0.3169" stop-color="rgb(138,138,138)"/><stop offset="0.3204" stop-color="rgb(140,140,140)"/><stop offset="0.3239" stop-color="rgb(141,141,141)"/><stop offset="0.3275" stop-color="rgb(140,140,140)"/><stop offset="0.3310" stop-color="rgb(139,139,139)"/><stop offset="0.3345" stop-color="rgb(136,136,136)"/><stop offset="0.3380" stop-color="rgb(133,133,133)"/><stop offset="0.3415" stop-color="rgb(130,130,130)"/><stop offset="0.3451" stop-color="rgb(127,127,127)"/><stop offset="0.3486" stop-color="rgb(126,126,126)"/><stop offset="0.3521" stop-color="rgb(125,125,125)"/><stop offset="0.3556" stop-color="rgb(126,126,126)"/><stop offset="0.3592" stop-color="rgb(128,128,128)"/><stop offset="0.3627" stop-color="rgb(130,130,130)"/><stop offset="0.3662" stop-color="rgb(133,133,133)"/><stop offset="0.3697" stop-color="rgb(136,136,136)"/><stop offset="0.3732" stop-color="rgb(139,139,139)"/><stop offset="0.3768" stop-color="rgb(140,140,140)"/><stop offset="0.3803" stop-color="rgb(141,141,141)"/><stop offset="0.3838" stop-color="rgb(140,140,140)"/><stop offset="0.3873" stop-color="rgb(138,138,138)"/><stop offset="0.3908" stop-color="rgb(136,136,136)"/><stop offset="0.3944" stop-color="rgb(133,133,133)"/><stop offset="0.3979" stop-color="rgb(130,130,130)"/><stop offset="0.4014" stop-color="rgb(127,127,127)"/><stop offset="0.4049" stop-color="rgb(126,126,126)"/><stop offset="0.4085" stop-color="rgb(125,125,125)"/><stop offset="0.4120" stop-color="rgb(126,126,126)"/><stop offset="0.4155" stop-color="rgb(127,127,127)"/><stop offset="0.4190" stop-color="rgb(130,130,130)"/><stop offset="0.4225" stop-color="rgb(133,133,133)"/><stop offset="0.4261" stop-color="rgb(136,136,136)"/><stop offset="0.4296" stop-color="rgb(139,139,139)"/><stop offset="0.4331" stop-color="rgb(140,140,140)"/><stop offset="0.4366" stop-color="rgb(141,141,141)"/><stop offset="0.4401" stop-color="rgb(140,140,140)"/><stop offset="0.4437" stop-color="rgb(139,139,139)"/><stop offset="0.4472" stop-color="rgb(136,136,136)"/><stop offset="0.4507" stop-color="rgb(133,133,133)"/><stop offset="0.4542" stop-color="rgb(130,130,130)"/><stop offset="0.4577" stop-color="rgb(127,127,127)"/><stop offset="0.4613" stop-color="rgb(126,126,126)"/><stop offset="0.4648" stop-color="rgb(125,125,125)"/><stop offset="0.4683" stop-color="rgb(126,126,126)"/><stop offset="0.4718" stop-color="rgb(127,127,127)"/><stop offset="0.4754" stop-color="rgb(130,130,130)"/><stop offset="0.4789" stop-color="rgb(133,133,133)"/><stop offset="0.4824" stop-color="rgb(136,136,136)"/><stop offset="0.4859" stop-color="rgb(139,139,139)"/><stop offset="0.4894" stop-color="rgb(140,140,140)"/><stop offset="0.4930" stop-color="rgb(141,141,141)"/><stop offset="0.4965" stop-color="rgb(141,141,141)"/><stop offset="0.5000" stop-color="rgb(139,139,139)"/><stop offset="0.5035" stop-color="rgb(137,137,137)"/><stop offset="0.5070" stop-color="rgb(134,134,134)"/><stop offset="0.5106" stop-color="rgb(131,131,131)"/><stop offset="0.5141" stop-color="rgb(128,128,128)"/><stop offset="0.5176" stop-color="rgb(126,126,126)"/><stop offset="0.5211" stop-color="rgb(125,125,125)"/><stop offset="0.5246" stop-color="rgb(125,125,125)"/><stop offset="0.5282" stop-color="rgb(127,127,127)"/><stop offset="0.5317" stop-color="rgb(129,129,129)"/><stop offset="0.5352" stop-color="rgb(132,132,132)"/><stop offset="0.5387" stop-color="rgb(135,135,135)"/><stop offset="0.5423" stop-color="rgb(138,138,138)"/><stop offset="0.5458" stop-color="rgb(140,140,140)"/><stop offset="0.5493" stop-color="rgb(141,141,141)"/><stop offset="0.5528" stop-color="rgb(141,141,141)"/><stop offset="0.5563" stop-color="rgb(140,140,140)"/><stop offset="0.5599" stop-color="rgb(138,138,138)"/><stop offset="0.5634" stop-color="rgb(135,135,135)"/><stop offset="0.5669" stop-color="rgb(132,132,132)"/><stop offset="0.5704" stop-color="rgb(129,129,129)"/><stop offset="0.5739" stop-color="rgb(127,127,127)"/><stop offset="0.5775" stop-color="rgb(125,125,125)"/><stop offset="0.5810" stop-color="rgb(125,125,125)"/><stop offset="0.5845" stop-color="rgb(126,126,126)"/><stop offset="0.5880" stop-color="rgb(128,128,128)"/><stop offset="0.5915" stop-color="rgb(131,131,131)"/><stop offset="0.5951" stop-color="rgb(134,134,134)"/><stop offset="0.5986" stop-color="rgb(137,137,137)"/><stop offset="0.6021" stop-color="rgb(139,139,139)"/><stop offset="0.6056" stop-color="rgb(141,141,141)"/><stop offset="0.6092" stop-color="rgb(141,141,141)"/><stop offset="0.6127" stop-color="rgb(140,140,140)"/><stop offset="0.6162" stop-color="rgb(138,138,138)"/><stop offset="0.6197" stop-color="rgb(135,135,135)"/><stop offset="0.6232" stop-color="rgb(132,132,132)"/><stop offset="0.6268" stop-color="rgb(129,129,129)"/><stop offset="0.6303" stop-color="rgb(126,126,126)"/><stop offset="0.6338" stop-color="rgb(125,125,125)"/><stop offset="0.6373" stop-color="rgb(125,125,125)"/><stop offset="0.6408" stop-color="rgb(127,127,127)"/><stop offset="0.6444" stop-color="rgb(129,129,129)"/><stop offset="0.6479" stop-color="rgb(132,132,132)"/><stop offset="0.6514" stop-color="rgb(135,135,135)"/><stop offset="0.6549" stop-color="rgb(138,138,138)"/><stop offset="0.6585" stop-color="rgb(140,140,140)"/><stop offset="0.6620" stop-color="rgb(141,141,141)"/><stop offset="0.6655" stop-color="rgb(141,141,141)"/><stop offset="0.6690" stop-color="rgb(139,139,139)"/><stop offset="0.6725" stop-color="rgb(136,136,136)"/><stop offset="0.6761" stop-color="rgb(133,133,133)"/><stop offset="0.6796" stop-color="rgb(130,130,130)"/><stop offset="0.6831" stop-color="rgb(127,127,127)"/><stop offset="0.6866" stop-color="rgb(126,126,126)"/><stop offset="0.6901" stop-color="rgb(125,125,125)"/><stop offset="0.6937" stop-color="rgb(126,126,126)"/><stop offset="0.6972" stop-color="rgb(128,128,128)"/><stop offset="0.7007" stop-color="rgb(130,130,130)"/><stop offset="0.7042" stop-color="rgb(134,134,134)"/><stop offset="0.7077" stop-color="rgb(137,137,137)"/><stop offset="0.7113" stop-color="rgb(139,139,139)"/><stop offset="0.7148" stop-color="rgb(141,141,141)"/><stop offset="0.7183" stop-color="rgb(141,141,141)"/><stop offset="0.7218" stop-color="rgb(140,140,140)"/><stop offset="0.7254" stop-color="rgb(139,139,139)"/><stop offset="0.7289" stop-color="rgb(136,136,136)"/><stop offset="0.7324" stop-color="rgb(133,133,133)"/><stop offset="0.7359" stop-color="rgb(130,130,130)"/><stop offset="0.7394" stop-color="rgb(128,128,128)"/><stop offset="0.7430" stop-color="rgb(126,126,126)"/><stop offset="0.7465" stop-color="rgb(125,125,125)"/><stop offset="0.7500" stop-color="rgb(125,125,125)"/><stop offset="0.7535" stop-color="rgb(127,127,127)"/><stop offset="0.7570" stop-color="rgb(129,129,129)"/><stop offset="0.7606" stop-color="rgb(132,132,132)"/><stop offset="0.7641" stop-color="rgb(135,135,135)"/><stop offset="0.7676" stop-color="rgb(138,138,138)"/><stop offset="0.7711" stop-color="rgb(140,140,140)"/><stop offset="0.7746" stop-color="rgb(141,141,141)"/><stop offset="0.7782" stop-color="rgb(141,141,141)"/><stop offset="0.7817" stop-color="rgb(140,140,140)"/><stop offset="0.7852" stop-color="rgb(137,137,137)"/><stop offset="0.7887" stop-color="rgb(135,135,135)"/><stop offset="0.7923" stop-color="rgb(132,132,132)"/><stop offset="0.7958" stop-color="rgb(129,129,129)"/><stop offset="0.7993" stop-color="rgb(127,127,127)"/><stop offset="0.8028" stop-color="rgb(125,125,125)"/><stop offset="0.8063" stop-color="rgb(125,125,125)"/><stop offset="0.8099" stop-color="rgb(126,126,126)"/><stop offset="0.8134" stop-color="rgb(128,128,128)"/><stop offset="0.8169" stop-color="rgb(131,131,131)"/><stop offset="0.8204" stop-color="rgb(134,134,134)"/><stop offset="0.8239" stop-color="rgb(136,136,136)"/><stop offset="0.8275" stop-color="rgb(138,138,138)"/><stop offset="0.8310" stop-color="rgb(140,140,140)"/><stop offset="0.8345" stop-color="rgb(141,141,141)"/><stop offset="0.8380" stop-color="rgb(141,141,141)"/><stop offset="0.8415" stop-color="rgb(140,140,140)"/><stop offset="0.8451" stop-color="rgb(138,138,138)"/><stop offset="0.8486" stop-color="rgb(136,136,136)"/><stop offset="0.8521" stop-color="rgb(133,133,133)"/><stop offset="0.8556" stop-color="rgb(131,131,131)"/><stop offset="0.8592" stop-color="rgb(128,128,128)"/><stop offset="0.8627" stop-color="rgb(126,126,126)"/><stop offset="0.8662" stop-color="rgb(125,125,125)"/><stop offset="0.8697" stop-color="rgb(125,125,125)"/><stop offset="0.8732" stop-color="rgb(126,126,126)"/><stop offset="0.8768" stop-color="rgb(127,127,127)"/><stop offset="0.8803" stop-color="rgb(129,129,129)"/><stop offset="0.8838" stop-color="rgb(132,132,132)"/><stop offset="0.8873" stop-color="rgb(135,135,135)"/><stop offset="0.8908" stop-color="rgb(137,137,137)"/><stop offset="0.8944" stop-color="rgb(139,139,139)"/><stop offset="0.8979" stop-color="rgb(141,141,141)"/><stop offset="0.9014" stop-color="rgb(141,141,141)"/><stop offset="0.9049" stop-color="rgb(141,141,141)"/><stop offset="0.9085" stop-color="rgb(139,139,139)"/><stop offset="0.9120" stop-color="rgb(137,137,137)"/><stop offset="0.9155" stop-color="rgb(135,135,135)"/><stop offset="0.9190" stop-color="rgb(132,132,132)"/><stop offset="0.9225" stop-color="rgb(130,130,130)"/><stop offset="0.9261" stop-color="rgb(127,127,127)"/><stop offset="0.9296" stop-color="rgb(126,126,126)"/><stop offset="0.9331" stop-color="rgb(125,125,125)"/><stop offset="0.9366" stop-color="rgb(125,125,125)"/><stop offset="0.9401" stop-color="rgb(126,126,126)"/><stop offset="0.9437" stop-color="rgb(128,128,128)"/><stop offset="0.9472" stop-color="rgb(130,130,130)"/><stop offset="0.9507" stop-color="rgb(133,133,133)"/><stop offset="0.9542" stop-color="rgb(136,136,136)"/><stop offset="0.9577" stop-color="rgb(139,139,139)"/><stop offset="0.9613" stop-color="rgb(140,140,140)"/><stop offset="0.9648" stop-color="rgb(141,141,141)"/><stop offset="0.9683" stop-color="rgb(141,141,141)"/><stop offset="0.9718" stop-color="rgb(139,139,139)"/><stop offset="0.9754" stop-color="rgb(137,137,137)"/><stop offset="0.9789" stop-color="rgb(134,134,134)"/><stop offset="0.9824" stop-color="rgb(131,131,131)"/><stop offset="0.9859" stop-color="rgb(128,128,128)"/><stop offset="0.9894" stop-color="rgb(126,126,126)"/><stop offset="0.9930" stop-color="rgb(125,125,125)"/><stop offset="0.9965" stop-color="rgb(125,125,125)"/><stop offset="1.0000" stop-color="rgb(126,126,126)"/></linearGradient>
<filter id="speck" x="0" y="0" width="1" height="1" color-interpolation-filters="sRGB">
 <feTurbulence type="fractalNoise" baseFrequency="0.025 0.05" numOctaves="2" seed="5" result="wv"/>
 <feDisplacementMap in="SourceGraphic" in2="wv" scale="3" xChannelSelector="R" yChannelSelector="G" result="src"/>
 <feTurbulence type="fractalNoise" baseFrequency="0.55" numOctaves="3" seed="3" result="n"/>
 <feColorMatrix in="n" type="matrix" values="1 0 0 0 0  1 0 0 0 0  1 0 0 0 0  0 0 0 0 1" result="g"/>
 <feComponentTransfer in="g" result="s"><feFuncR type="linear" slope="1.15" intercept="-0.075"/><feFuncG type="linear" slope="1.15" intercept="-0.075"/><feFuncB type="linear" slope="1.15" intercept="-0.075"/></feComponentTransfer>
 <feTurbulence type="fractalNoise" baseFrequency="0.06" numOctaves="2" seed="9" result="nl"/>
 <feColorMatrix in="nl" type="matrix" values="0.45 0 0 0 0.275  0.45 0 0 0 0.275  0.45 0 0 0 0.275  0 0 0 0 1" result="sl"/>
 <feComposite in="s" in2="sl" operator="arithmetic" k1="2" k2="0" k3="0" k4="0" result="s2"/>
 <feComposite in="src" in2="s2" operator="arithmetic" k1="1.12" k2="0" k3="0" k4="0"/>
 <feGaussianBlur stdDeviation="0.35"/>
</filter>
<filter id="cnoise" x="0" y="0" width="1" height="1" color-interpolation-filters="sRGB">
 <feTurbulence type="fractalNoise" baseFrequency="0.02 0.05" numOctaves="2" seed="21" result="wv"/>
 <feDisplacementMap in="SourceGraphic" in2="wv" scale="4" xChannelSelector="R" yChannelSelector="G" result="src"/>
 <feTurbulence type="fractalNoise" baseFrequency="0.75" numOctaves="2" seed="11" result="n"/>
 <feColorMatrix in="n" type="matrix" values="1 0 0 0 0  1 0 0 0 0  1 0 0 0 0  0 0 0 0 1" result="g"/>
 <feComposite in="src" in2="g" operator="arithmetic" k1="0" k2="1" k3="0.2" k4="-0.1"/>
</filter>
<filter id="soft" x="-1" y="-1" width="3" height="3"><feGaussianBlur stdDeviation="0.5"/></filter>
<filter id="fine" x="0" y="0" width="1" height="1" color-interpolation-filters="sRGB">
 <feTurbulence type="fractalNoise" baseFrequency="0.7" numOctaves="1" seed="7" result="n"/>
 <feColorMatrix in="n" type="matrix" values="1 0 0 0 0  1 0 0 0 0  1 0 0 0 0  0 0 0 0 1" result="g"/>
 <feComposite in="SourceGraphic" in2="g" operator="arithmetic" k1="0" k2="1" k3="0.12" k4="-0.06"/>
</filter>
</defs>
<rect x="54.85" y="0.35" width="283.75" height="223.75" fill="url(#fr)" filter="url(#speck)"/><g filter="url(#soft)"><ellipse cx="150" cy="129" rx="3.0" ry="3.5" fill="#080808"/><circle cx="182.9" cy="180.8" r="2.2" fill="#101010"/><circle cx="175.9" cy="198.8" r="1.6" fill="#151515"/><circle cx="241" cy="43.2" r="1.6" fill="#151515"/><circle cx="168" cy="75.5" r="1.5" fill="#1a1a1a"/><circle cx="106.8" cy="14.4" r="2.6" fill="none" stroke="#d8d8d8" stroke-width="1.1"/></g><rect x="410.6" y="0.35" width="283.20" height="223.75" fill="url(#ph)" filter="url(#fine)"/><rect x="55.1" y="285.7" width="283.7" height="223.60" fill="url(#rip)" filter="url(#cnoise)"/><g filter="url(#soft)"><circle cx="151.2" cy="413.6" r="1.9" fill="#fff"/><circle cx="150.3" cy="417.4" r="1.0" fill="#222"/><circle cx="136.5" cy="404.9" r="0.8" fill="#e8e8e8"/><circle cx="154.6" cy="417.6" r="0.8" fill="#eee"/><circle cx="63.8" cy="309.7" r="1.3" fill="#fff"/><circle cx="67.7" cy="311.1" r="1.2" fill="#f4f4f4"/><circle cx="66.0" cy="310.3" r="0.8" fill="#333"/><circle cx="107.5" cy="300.4" r="0.9" fill="#eee"/><circle cx="102" cy="301" r="0.7" fill="#ccc"/><circle cx="96.5" cy="333" r="0.7" fill="#ddd"/></g><rect x="411.1" y="289.9" width="276.50" height="218.50" fill="#fff"/><rect x="54.85" y="0.35" width="283.75" height="223.75" fill="none" stroke="#000" stroke-width="1.2"/><path d="M98.66 224.1V220.79999999999998M98.66 0.35V3.65" stroke="#000" stroke-width="1"/><path d="M142.42 224.1V220.79999999999998M142.42 0.35V3.65" stroke="#000" stroke-width="1"/><path d="M186.18 224.1V220.79999999999998M186.18 0.35V3.65" stroke="#000" stroke-width="1"/><path d="M229.94 224.1V220.79999999999998M229.94 0.35V3.65" stroke="#000" stroke-width="1"/><path d="M273.70 224.1V220.79999999999998M273.70 0.35V3.65" stroke="#000" stroke-width="1"/><path d="M317.46 224.1V220.79999999999998M317.46 0.35V3.65" stroke="#000" stroke-width="1"/><path d="M54.85 23.56H58.15M338.6 23.56H335.3" stroke="#000" stroke-width="1"/><path d="M54.85 46.62H58.15M338.6 46.62H335.3" stroke="#000" stroke-width="1"/><path d="M54.85 69.68H58.15M338.6 69.68H335.3" stroke="#000" stroke-width="1"/><path d="M54.85 92.74H58.15M338.6 92.74H335.3" stroke="#000" stroke-width="1"/><path d="M54.85 115.80H58.15M338.6 115.80H335.3" stroke="#000" stroke-width="1"/><path d="M54.85 138.86H58.15M338.6 138.86H335.3" stroke="#000" stroke-width="1"/><path d="M54.85 161.92H58.15M338.6 161.92H335.3" stroke="#000" stroke-width="1"/><path d="M54.85 184.98H58.15M338.6 184.98H335.3" stroke="#000" stroke-width="1"/><path d="M54.85 208.04H58.15M338.6 208.04H335.3" stroke="#000" stroke-width="1"/><rect x="410.6" y="0.35" width="283.20" height="223.75" fill="none" stroke="#000" stroke-width="1.15"/><path d="M453.96 224.1V220.79999999999998M453.96 0.35V3.65" stroke="#000" stroke-width="1"/><path d="M497.72 224.1V220.79999999999998M497.72 0.35V3.65" stroke="#000" stroke-width="1"/><path d="M541.48 224.1V220.79999999999998M541.48 0.35V3.65" stroke="#000" stroke-width="1"/><path d="M585.24 224.1V220.79999999999998M585.24 0.35V3.65" stroke="#000" stroke-width="1"/><path d="M629.00 224.1V220.79999999999998M629.00 0.35V3.65" stroke="#000" stroke-width="1"/><path d="M672.76 224.1V220.79999999999998M672.76 0.35V3.65" stroke="#000" stroke-width="1"/><path d="M410.6 23.56H413.90000000000003M693.8 23.56H690.5" stroke="#000" stroke-width="1"/><path d="M410.6 46.62H413.90000000000003M693.8 46.62H690.5" stroke="#000" stroke-width="1"/><path d="M410.6 69.68H413.90000000000003M693.8 69.68H690.5" stroke="#000" stroke-width="1"/><path d="M410.6 92.74H413.90000000000003M693.8 92.74H690.5" stroke="#000" stroke-width="1"/><path d="M410.6 115.80H413.90000000000003M693.8 115.80H690.5" stroke="#000" stroke-width="1"/><path d="M410.6 138.86H413.90000000000003M693.8 138.86H690.5" stroke="#000" stroke-width="1"/><path d="M410.6 161.92H413.90000000000003M693.8 161.92H690.5" stroke="#000" stroke-width="1"/><path d="M410.6 184.98H413.90000000000003M693.8 184.98H690.5" stroke="#000" stroke-width="1"/><path d="M410.6 208.04H413.90000000000003M693.8 208.04H690.5" stroke="#000" stroke-width="1"/><rect x="55.1" y="285.7" width="283.70" height="223.60" fill="none" stroke="#000" stroke-width="1.45"/><path d="M98.66 509.3V506.0M98.66 285.7V289.0" stroke="#000" stroke-width="1"/><path d="M142.42 509.3V506.0M142.42 285.7V289.0" stroke="#000" stroke-width="1"/><path d="M186.18 509.3V506.0M186.18 285.7V289.0" stroke="#000" stroke-width="1"/><path d="M229.94 509.3V506.0M229.94 285.7V289.0" stroke="#000" stroke-width="1"/><path d="M273.70 509.3V506.0M273.70 285.7V289.0" stroke="#000" stroke-width="1"/><path d="M317.46 509.3V506.0M317.46 285.7V289.0" stroke="#000" stroke-width="1"/><path d="M55.1 309.16H58.4M338.8 309.16H335.5" stroke="#000" stroke-width="1"/><path d="M55.1 332.22H58.4M338.8 332.22H335.5" stroke="#000" stroke-width="1"/><path d="M55.1 355.28H58.4M338.8 355.28H335.5" stroke="#000" stroke-width="1"/><path d="M55.1 378.34H58.4M338.8 378.34H335.5" stroke="#000" stroke-width="1"/><path d="M55.1 401.40H58.4M338.8 401.40H335.5" stroke="#000" stroke-width="1"/><path d="M55.1 424.46H58.4M338.8 424.46H335.5" stroke="#000" stroke-width="1"/><path d="M55.1 447.52H58.4M338.8 447.52H335.5" stroke="#000" stroke-width="1"/><path d="M55.1 470.58H58.4M338.8 470.58H335.5" stroke="#000" stroke-width="1"/><path d="M55.1 493.64H58.4M338.8 493.64H335.5" stroke="#000" stroke-width="1"/><rect x="411.1" y="289.9" width="276.50" height="218.50" fill="none" stroke="#000" stroke-width="1.45"/><path d="M457.18 508.4V505.09999999999997M457.18 289.9V293.2" stroke="#000" stroke-width="1"/><path d="M503.27 508.4V505.09999999999997M503.27 289.9V293.2" stroke="#000" stroke-width="1"/><path d="M549.35 508.4V505.09999999999997M549.35 289.9V293.2" stroke="#000" stroke-width="1"/><path d="M595.43 508.4V505.09999999999997M595.43 289.9V293.2" stroke="#000" stroke-width="1"/><path d="M641.52 508.4V505.09999999999997M641.52 289.9V293.2" stroke="#000" stroke-width="1"/><path d="M411.1 480.82H414.40000000000003M687.6 480.82H684.3000000000001" stroke="#000" stroke-width="1"/><path d="M411.1 453.55H414.40000000000003M687.6 453.55H684.3000000000001" stroke="#000" stroke-width="1"/><path d="M411.1 426.27H414.40000000000003M687.6 426.27H684.3000000000001" stroke="#000" stroke-width="1"/><path d="M411.1 399.00H414.40000000000003M687.6 399.00H684.3000000000001" stroke="#000" stroke-width="1"/><path d="M411.1 371.73H414.40000000000003M687.6 371.73H684.3000000000001" stroke="#000" stroke-width="1"/><path d="M411.1 344.45H414.40000000000003M687.6 344.45H684.3000000000001" stroke="#000" stroke-width="1"/><path d="M411.1 317.18H414.40000000000003M687.6 317.18H684.3000000000001" stroke="#000" stroke-width="1"/><g font-family="Liberation Sans, Arial, sans-serif" font-size="8.3" font-weight="normal" fill="#000"><text x="98.66" y="234.6" text-anchor="middle">200</text><text x="142.42" y="234.6" text-anchor="middle">400</text><text x="186.18" y="234.6" text-anchor="middle">600</text><text x="229.94" y="234.6" text-anchor="middle">800</text><text x="273.70" y="234.6" text-anchor="middle">1000</text><text x="317.46" y="234.6" text-anchor="middle">1200</text><text x="52.2" y="26.46" text-anchor="end">100</text><text x="52.2" y="49.52" text-anchor="end">200</text><text x="52.2" y="72.58" text-anchor="end">300</text><text x="52.2" y="95.64" text-anchor="end">400</text><text x="52.2" y="118.70" text-anchor="end">500</text><text x="52.2" y="141.76" text-anchor="end">600</text><text x="52.2" y="164.82" text-anchor="end">700</text><text x="52.2" y="187.88" text-anchor="end">800</text><text x="52.2" y="210.94" text-anchor="end">900</text></g><g font-family="Liberation Sans, Arial, sans-serif" font-size="8.3" font-weight="normal" fill="#000"><text x="453.96" y="234.6" text-anchor="middle">200</text><text x="497.72" y="234.6" text-anchor="middle">400</text><text x="541.48" y="234.6" text-anchor="middle">600</text><text x="585.24" y="234.6" text-anchor="middle">800</text><text x="629.00" y="234.6" text-anchor="middle">1000</text><text x="672.76" y="234.6" text-anchor="middle">1200</text><text x="407.8" y="26.46" text-anchor="end">100</text><text x="407.8" y="49.52" text-anchor="end">200</text><text x="407.8" y="72.58" text-anchor="end">300</text><text x="407.8" y="95.64" text-anchor="end">400</text><text x="407.8" y="118.70" text-anchor="end">500</text><text x="407.8" y="141.76" text-anchor="end">600</text><text x="407.8" y="164.82" text-anchor="end">700</text><text x="407.8" y="187.88" text-anchor="end">800</text><text x="407.8" y="210.94" text-anchor="end">900</text></g><g font-family="Liberation Sans, Arial, sans-serif" font-size="8.3" font-weight="bold" fill="#000"><text x="98.66" y="519.7" text-anchor="middle">200</text><text x="142.42" y="519.7" text-anchor="middle">400</text><text x="186.18" y="519.7" text-anchor="middle">600</text><text x="229.94" y="519.7" text-anchor="middle">800</text><text x="273.70" y="519.7" text-anchor="middle">1000</text><text x="317.46" y="519.7" text-anchor="middle">1200</text><text x="52.2" y="312.06" text-anchor="end">100</text><text x="52.2" y="335.12" text-anchor="end">200</text><text x="52.2" y="358.18" text-anchor="end">300</text><text x="52.2" y="381.24" text-anchor="end">400</text><text x="52.2" y="404.30" text-anchor="end">500</text><text x="52.2" y="427.36" text-anchor="end">600</text><text x="52.2" y="450.42" text-anchor="end">700</text><text x="52.2" y="473.48" text-anchor="end">800</text><text x="52.2" y="496.54" text-anchor="end">900</text></g><g font-family="Liberation Sans, Arial, sans-serif" font-size="8.3" font-weight="bold" fill="#000"><text x="411.10" y="518.9" text-anchor="middle">0</text><text x="457.18" y="518.9" text-anchor="middle">50</text><text x="503.27" y="518.9" text-anchor="middle">100</text><text x="549.35" y="518.9" text-anchor="middle">150</text><text x="595.43" y="518.9" text-anchor="middle">200</text><text x="641.52" y="518.9" text-anchor="middle">250</text><text x="687.60" y="518.9" text-anchor="middle">300</text><text x="409.0" y="511.00" text-anchor="end">−20</text><text x="409.0" y="483.72" text-anchor="end">−15</text><text x="409.0" y="456.45" text-anchor="end">−10</text><text x="409.0" y="429.17" text-anchor="end">−5</text><text x="409.0" y="401.90" text-anchor="end">0</text><text x="409.0" y="374.62" text-anchor="end">5</text><text x="409.0" y="347.35" text-anchor="end">10</text><text x="409.0" y="320.07" text-anchor="end">15</text><text x="409.0" y="292.80" text-anchor="end">20</text></g><text x="197" y="244.9" text-anchor="middle" font-family="Liberation Sans, Arial, sans-serif" font-size="8.6" font-weight="normal">X (pixel)</text><text x="552.5" y="244.9" text-anchor="middle" font-family="Liberation Sans, Arial, sans-serif" font-size="8.6" font-weight="normal">X (pixel)</text><text x="197" y="530.4" text-anchor="middle" font-family="Liberation Sans, Arial, sans-serif" font-size="8.6" font-weight="bold">X (pixel)</text><text x="549.1" y="526.9" text-anchor="middle" font-family="Liberation Sans, Arial, sans-serif" font-size="7.9" font-weight="bold" textLength="29.0" lengthAdjust="spacingAndGlyphs">X (pixel)</text><text x="31.7" y="112" text-anchor="middle" font-family="Liberation Sans, Arial, sans-serif" font-size="8.6" font-weight="normal" transform="rotate(-90 31.7 112)">Y (pixel)</text><text x="387.3" y="112" text-anchor="middle" font-family="Liberation Sans, Arial, sans-serif" font-size="8.6" font-weight="normal" transform="rotate(-90 387.3 112)">Y (pixel)</text><text x="31.8" y="398" text-anchor="middle" font-family="Liberation Sans, Arial, sans-serif" font-size="8.6" font-weight="bold" transform="rotate(-90 31.8 398)" textLength="30.0" lengthAdjust="spacingAndGlyphs">Y (pixel)</text><text x="387.9" y="392.7" text-anchor="middle" font-family="Liberation Sans, Arial, sans-serif" font-size="8.1" font-weight="bold" transform="rotate(-90 387.9 392.7)" textLength="74.5" lengthAdjust="spacingAndGlyphs">Phase ripple error (rad)</text><rect x="130.8" y="365.0" width="67.2" height="2.9" fill="#0a0ae6"/><text x="164.9" y="363.2" text-anchor="middle" font-family="Liberation Sans, Arial, sans-serif" font-size="16" font-weight="bold" fill="#0a0ae6">L</text><polyline fill="none" stroke="#00ff00" stroke-width="1.6" stroke-linejoin="round" points="411.9,394.9 413.6,398.0 416.1,400.9 417.9,398.4 420.7,396.3 422.8,398.8 424.6,397.7 426.7,400.5 428.8,397.0 430.2,399.1 431.3,397.0 433.0,393.5 434.1,397.0 435.5,398.0 436.9,396.6 439.4,395.6 440.4,398.0 442.2,410.0 443.3,401.9 445.4,396.6 447.1,398.0 448.6,409.0 449.6,400.5 451.0,397.7 452.8,397.7 454.9,403.0 457.6,397.5 459.6,401.6 461.0,398.8 462.1,399.5 463.5,398.0 465.2,406.2 467.0,399.8 468.4,399.5 470.2,395.6 471.9,400.2 473.7,398.0 475.5,403.0 477.2,398.8 479.7,401.2 481.8,397.3 483.9,401.2 486.7,394.2 489.6,399.1 492.0,396.6 494.5,398.0 497.0,395.6 499.4,399.5 501.9,397.7 503.9,391.9 504.9,401.9 506.0,398.4 507.4,407.2 508.5,398.4 510.2,396.3 513.0,401.9 515.2,397.7 518.3,397.0 520.5,401.6 522.6,397.7 526.8,404.0 528.9,399.8 530.3,403.0 531.7,396.6 533.1,402.3 534.9,398.0 536.7,399.8 539.1,399.8 540.9,398.0 542.3,401.2 544.1,397.3 545.5,398.8 546.9,396.3 549.2,398.0 552.1,397.3 553.8,400.5 555.6,394.2 556.6,389.9 557.7,394.2 559.5,398.4 561.9,396.6 565.1,397.7 567.6,394.5 571.4,397.7 573.2,408.3 575.0,396.6 576.7,403.0 578.9,397.3 580.3,398.8 582.0,403.3 583.8,398.8 585.2,401.2 587.0,398.0 589.8,403.0 592.1,399.5 594.2,399.1 595.6,401.2 597.4,398.4 598.8,403.0 600.2,401.6 603.4,401.6 606.2,393.8 608.0,401.9 609.7,401.6 611.2,402.3 613.3,399.8 615.4,395.2 617.2,401.2 619.3,404.7 621.0,399.1 623.1,398.8 624.6,395.6 626.7,397.3 628.1,401.2 629.5,398.0 630.9,400.5 634.4,395.6 635.8,397.5 637.7,388.5 638.9,393.5 640.8,398.2 645.1,398.6 647.4,400.5 649.4,409.8 650.5,400.5 651.7,396.2 653.6,401.7 655.2,398.6 656.7,401.3 659.8,400.1 661.4,402.8 663.3,398.6 665.6,401.7 668.7,397.0 670.7,402.5 673.4,397.0 676.5,403.6 678.4,394.7 680.4,401.3 682.3,397.8 684.7,400.9 687.6,396.6"/><rect x="580.0" y="294.6" width="103.4" height="13.0" fill="#fff" stroke="#000" stroke-width="1"/><path d="M584.8 300.6H610.5" stroke="#00ff00" stroke-width="1.2"/><text x="613.8" y="303.8" font-family="Liberation Sans, Arial, sans-serif" font-size="8.6" font-weight="bold" textLength="66.8" lengthAdjust="spacingAndGlyphs">traditional method</text><text x="54.0" y="262.5" font-family="DejaVu Serif Condensed, DejaVu Serif, serif" font-size="19.5" stroke="#000" stroke-width="0.3">(<tspan font-family="DejaVu Serif, serif" font-size="18.0" stroke-width="0.55">a</tspan>)</text><text x="81.3" y="262.0" font-family="DejaVu Serif Condensed, DejaVu Serif, serif" font-size="11.8" stroke="#000" stroke-width="0.45" textLength="222.3" lengthAdjust="spacingAndGlyphs">One of moiré interference fringe patterns</text><text x="359.3" y="262.5" font-family="DejaVu Serif Condensed, DejaVu Serif, serif" font-size="19.5" stroke="#000" stroke-width="0.3">(<tspan font-family="DejaVu Serif, serif" font-size="18.0" stroke-width="0.55">b</tspan>)</text><text x="388.6" y="262.0" font-family="DejaVu Serif Condensed, DejaVu Serif, serif" font-size="11.8" stroke="#000" stroke-width="0.45" textLength="319.4" lengthAdjust="spacingAndGlyphs">Unwrapped phase through four-step phase shifting method</text><text x="-0.6" y="548.5999999999999" font-family="DejaVu Serif Condensed, DejaVu Serif, serif" font-size="19.5" stroke="#000" stroke-width="0.3">(<tspan font-family="DejaVu Serif, serif" font-size="18.0" stroke-width="0.55">c</tspan>)</text><text x="25.4" y="546.8" font-family="DejaVu Serif Condensed, DejaVu Serif, serif" font-size="11.8" stroke="#000" stroke-width="0.45" textLength="333.0" lengthAdjust="spacingAndGlyphs">Ripple error between unwrapped phases (b) in repeated tests</text><text x="415.8" y="546.8" font-family="DejaVu Serif Condensed, DejaVu Serif, serif" font-size="19.5" stroke="#000" stroke-width="0.3">(<tspan font-family="DejaVu Serif, serif" font-size="18.0" stroke-width="0.55">d</tspan>)</text><text x="443.1" y="545.4" font-family="DejaVu Serif Condensed, DejaVu Serif, serif" font-size="11.8" stroke="#000" stroke-width="0.45" textLength="205.9" lengthAdjust="spacingAndGlyphs">Cross section view along line ‘L’ (left)</text>
</svg>
</body></html>
